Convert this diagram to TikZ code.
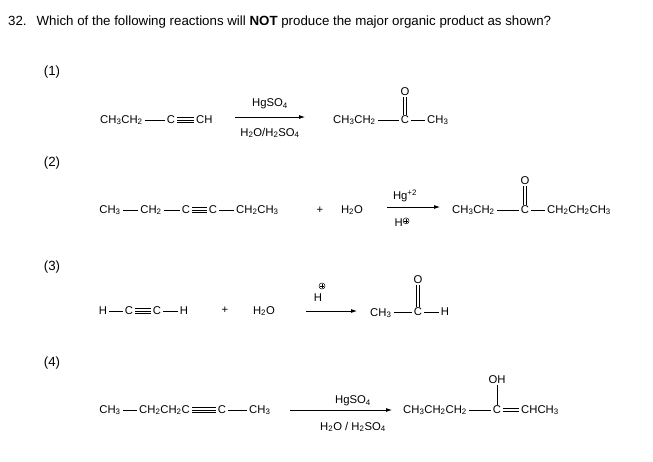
\documentclass[tikz,border=0pt]{standalone}
\usepackage{fontspec}
\setmainfont{Liberation Sans}
\usetikzlibrary{arrows.meta}
\newcommand{\ssb}[1]{\textsubscript{#1}}
\newcommand{\ssp}[1]{\textsuperscript{#1}}
\newcommand{\plusc}{\tikz[baseline=-2.5pt]{\draw[line width=0.5pt] (0,0) circle (3pt); \draw[line width=0.5pt] (-2pt,0)--(2pt,0) (0,-2pt)--(0,2pt);}}
\tikzset{
  t/.style={inner sep=0pt, font=\fontsize{11.3}{13}\selectfont},
  hd/.style={inner sep=0pt, font=\fontsize{13.3}{15}\selectfont},
  bond/.style={line width=0.65pt, shorten <=2pt, shorten >=2pt},
  rx/.style={line width=0.75pt, -{Latex[length=6pt,width=4pt]}},
}
\begin{document}
\begin{tikzpicture}[x=1pt,y=-1pt]
\useasboundingbox (0,0) rectangle (653,461);
\fill[white] (0,0) rectangle (653,461);
\node[hd,anchor=west] (q) at (8,22) {32.\hspace{10pt}Which of the following reactions will \textbf{NOT} produce the major organic product as shown?};
\node[hd] (l1) at (52,72) {(1)};
\node[hd] (l2) at (52,163) {(2)};
\node[hd] (l3) at (52,267) {(3)};
\node[hd] (l4) at (52,363) {(4)};
% ---- reaction 1
\node[t,anchor=west] (a1) at (100,120) {CH\ssb3CH\ssb2};
\node[t] (a2) at (171,120) {C};
\node[t,anchor=west] (a3) at (196,120) {CH};
\draw[bond] (a1.east) -- (a2.west);
\foreach \d in {-2.4,0,2.4}{\draw[bond] ([yshift=\d]a2.east) -- ([yshift=\d]a3.west);}
\coordinate (r1s) at (235,117); \coordinate (r1e) at (305,117);
\draw[rx] (r1s) -- (r1e);
\node[t] (c1) at (270,104) {HgSO\ssb4};
\node[t] (c2) at (270,133) {H\ssb2O/H\ssb2SO\ssb4};
\node[t,anchor=west] (p1) at (333,120) {CH\ssb3CH\ssb2};
\node[t] (p2) at (405,120) {C};
\node[t,anchor=west] (p3) at (427,120) {CH\ssb3};
\node[t] (p4) at (405,92) {O};
\draw[bond] (p1.east) -- (p2.west);
\draw[bond] (p2.east) -- (p3.west);
\foreach \d in {-1.6,1.6}{\draw[bond,shorten <=1pt,shorten >=1pt] ([xshift=\d]p4.south) -- ([xshift=\d]p2.north);}
% ---- reaction 2
\node[t] (b1) at (110,210) {CH\ssb3};
\node[t] (b2) at (151,210) {CH\ssb2};
\node[t] (b3) at (186,210) {C};
\node[t] (b4) at (213,210) {C};
\node[t,anchor=west] (b5) at (236,210) {CH\ssb2CH\ssb3};
\draw[bond] (b1.east) -- (b2.west);
\draw[bond] (b2.east) -- (b3.west);
\foreach \d in {-2.4,0,2.4}{\draw[bond] ([yshift=\d]b3.east) -- ([yshift=\d]b4.west);}
\draw[bond] (b4.east) -- (b5.west);
\node[t] (b6) at (320,210) {+};
\node[t] (b7) at (352,210) {H\ssb2O};
\coordinate (r2s) at (387,207); \coordinate (r2e) at (440,207);
\draw[rx] (r2s) -- (r2e);
\node[t] (d1) at (405,196) {Hg\ssp{+2}};
\node[t] (d2) at (402,222) {H\raisebox{3pt}{\plusc}};
\node[t,anchor=west] (q1) at (452,210) {CH\ssb3CH\ssb2};
\node[t] (q2) at (525,210) {C};
\node[t,anchor=west] (q3) at (547,210) {CH\ssb2CH\ssb2CH\ssb3};
\node[t] (q4) at (525,181) {O};
\draw[bond] (q1.east) -- (q2.west);
\draw[bond] (q2.east) -- (q3.west);
\foreach \d in {-1.6,1.6}{\draw[bond,shorten <=1pt,shorten >=1pt] ([xshift=\d]q4.south) -- ([xshift=\d]q2.north);}
% ---- reaction 3
\node[t] (e1) at (103,311) {H};
\node[t] (e2) at (129,311) {C};
\node[t] (e3) at (157,311) {C};
\node[t] (e4) at (184,311) {H};
\draw[bond] (e1.east) -- (e2.west);
\foreach \d in {-2.4,0,2.4}{\draw[bond] ([yshift=\d]e2.east) -- ([yshift=\d]e3.west);}
\draw[bond] (e3.east) -- (e4.west);
\node[t] (e5) at (225,310) {+};
\node[t] (e6) at (264,311) {H\ssb2O};
\coordinate (r3s) at (306,311); \coordinate (r3e) at (357,311);
\draw[rx] (r3s) -- (r3e);
\node[t] (f1) at (318,298) {H};
\node[inner sep=0pt] (f2) at (322,286) {\plusc};
\node[t,anchor=west] (s1) at (370,313) {CH\ssb3};
\node[t] (s2) at (418,312) {C};
\node[t] (s3) at (445,312) {H};
\node[t] (s4) at (418,280) {O};
\draw[bond] ([yshift=1pt]s1.east) -- (s2.west);
\draw[bond] (s2.east) -- (s3.west);
\foreach \d in {-1.6,1.6}{\draw[bond,shorten <=1pt,shorten >=1pt] ([xshift=\d]s4.south) -- ([xshift=\d]s2.north);}
% ---- reaction 4
\node[t] (g1) at (110,410) {CH\ssb3};
\node[t,anchor=west] (g2) at (139,410) {CH\ssb2CH\ssb2C};
\node[t] (g3) at (222,410) {C};
\node[t,anchor=west] (g4) at (249,410) {CH\ssb3};
\draw[bond] (g1.east) -- (g2.west);
\foreach \d in {-2.4,0,2.4}{\draw[bond] ([yshift=\d]g2.east) -- ([yshift=\d]g3.west);}
\draw[bond] (g3.east) -- (g4.west);
\coordinate (r4s) at (290,410); \coordinate (r4e) at (392,410);
\draw[rx] (r4s) -- (r4e);
\node[t] (h1) at (353,401) {HgSO\ssb4};
\node[t] (h2) at (353,427) {H\ssb2O / H\ssb2SO\ssb4};
\node[t,anchor=west] (u1) at (403,410) {CH\ssb3CH\ssb2CH\ssb2};
\node[t] (u2) at (497,410) {C};
\node[t,anchor=west] (u3) at (521,410) {CHCH\ssb3};
\node[t] (u4) at (497,380) {OH};
\draw[bond] (u1.east) -- (u2.west);
\foreach \d in {-1.6,1.6}{\draw[bond] ([yshift=\d]u2.east) -- ([yshift=\d]u3.west);}
\draw[bond,shorten <=1pt,shorten >=1pt] (u4.south) -- (u2.north);
\end{tikzpicture}
\end{document}
